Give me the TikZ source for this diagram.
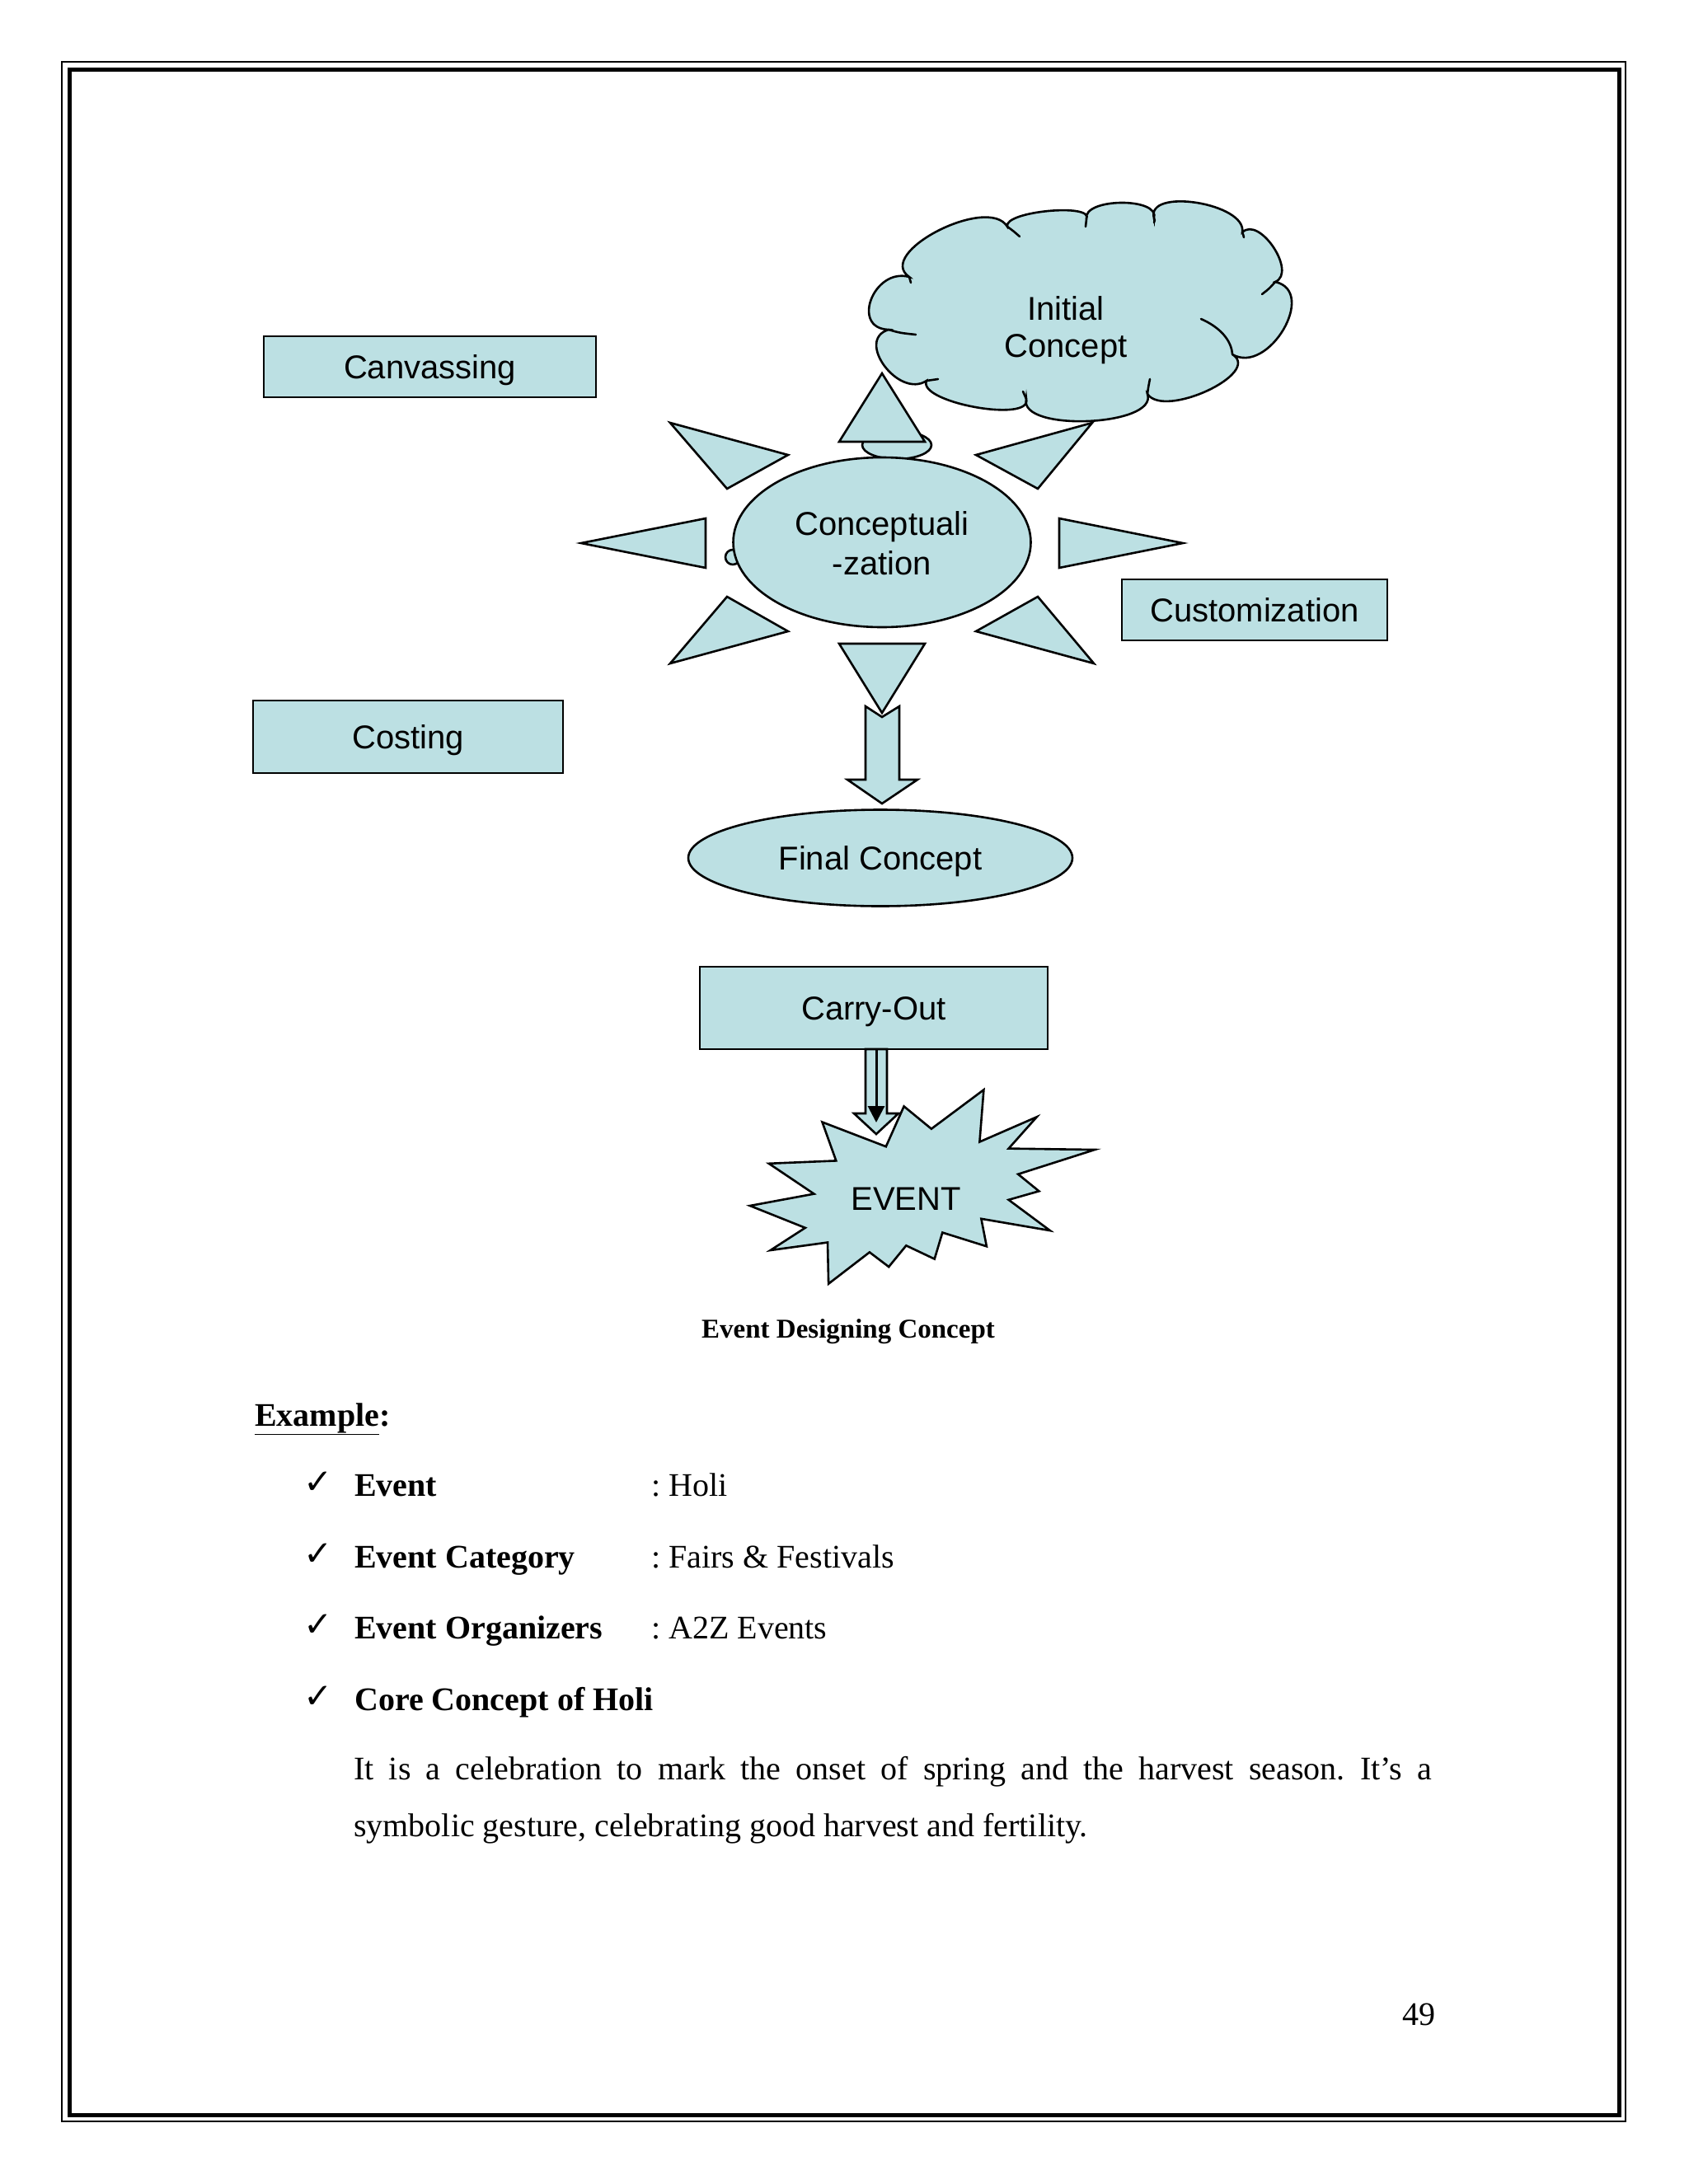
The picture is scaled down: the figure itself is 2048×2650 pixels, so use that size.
\documentclass[tikz,border=0pt]{standalone}
\usepackage{fontspec}
\setmainfont{Liberation Serif}
\newfontfamily\arialf{Liberation Sans}
\newfontfamily\dejavuf{DejaVu Sans}
\usetikzlibrary{shapes.geometric,arrows.meta,calc}
\definecolor{shapefill}{RGB}{188,224,227}
\begin{document}
\frenchspacing
\begin{tikzpicture}[x=1pt,y=-1pt,
  shp/.style={draw=black, fill=shapefill, line width=2.6pt, line join=miter},
  boxnode/.style={shp, rectangle, inner sep=0pt, font=\arialf\fontsize{40}{46}\selectfont, text height=29pt, text depth=0pt},
  lbl/.style={inner sep=0pt, anchor=base, font=\arialf\fontsize{40}{46}\selectfont},
  body/.style={inner sep=0pt, anchor=base west, font=\fontsize{40}{48}\selectfont},
  bodyb/.style={body, font=\bfseries\fontsize{40}{48}\selectfont},
  tick/.style={inner sep=0pt, anchor=base west, font=\dejavuf\fontsize{42}{42}\selectfont},
  curl/.style={draw=black, line width=2.6pt, line cap=round}
]
\fill[white] (0,0) rectangle (2048,2650);
\useasboundingbox (0,0) rectangle (2048,2650);

% page border
\draw[line width=2pt] (75,75) rectangle (1972,2574);
\draw[line width=5pt] (84,84) rectangle (1964,2566);

% side boxes
\node[boxnode, minimum width=403pt, minimum height=74pt] (canv) at (521.5,445) {Canvassing};
\node[boxnode, minimum width=376pt, minimum height=88pt] (cost) at (495,894) {Costing};
\node[boxnode, minimum width=322pt, minimum height=74pt] (cust) at (1522,740) {Customization};

% cloud (drawn lobe by lobe)
\coordinate (cA) at (1103,336);
\coordinate (mAB) at (1138,280);
\coordinate (cB) at (1222,275);
\coordinate (mBC) at (1272,256);
\coordinate (cC) at (1318,266);
\coordinate (mCD) at (1360,246);
\coordinate (cD) at (1400,265);
\coordinate (mDE) at (1452,246);
\coordinate (cE) at (1507,282);
\coordinate (mEF) at (1545,300);
\coordinate (cF) at (1547,342);
\coordinate (mFG) at (1557,400);
\coordinate (cG) at (1495,430);
\coordinate (mGH) at (1465,474);
\coordinate (cH) at (1392,478);
\coordinate (mHI) at (1320,511);
\coordinate (cI) at (1245,484);
\coordinate (mIJ) at (1183,494);
\coordinate (cJ) at (1124,462);
\coordinate (mJK) at (1073,444);
\coordinate (cK) at (1078,400);
\coordinate (mKA) at (1057,363);
\path[shp] (cA)
  .. controls ($0.4133*(cA)+1.3333*(mAB)-0.7467*(cB)$) and ($0.4133*(cB)+1.3333*(mAB)-0.7467*(cA)$) .. (cB)
  .. controls ($0.4133*(cB)+1.3333*(mBC)-0.7467*(cC)$) and ($0.4133*(cC)+1.3333*(mBC)-0.7467*(cB)$) .. (cC)
  .. controls ($0.4133*(cC)+1.3333*(mCD)-0.7467*(cD)$) and ($0.4133*(cD)+1.3333*(mCD)-0.7467*(cC)$) .. (cD)
  .. controls ($0.4133*(cD)+1.3333*(mDE)-0.7467*(cE)$) and ($0.4133*(cE)+1.3333*(mDE)-0.7467*(cD)$) .. (cE)
  .. controls ($0.4133*(cE)+1.3333*(mEF)-0.7467*(cF)$) and ($0.4133*(cF)+1.3333*(mEF)-0.7467*(cE)$) .. (cF)
  .. controls ($0.4133*(cF)+1.3333*(mFG)-0.7467*(cG)$) and ($0.4133*(cG)+1.3333*(mFG)-0.7467*(cF)$) .. (cG)
  .. controls ($0.4133*(cG)+1.3333*(mGH)-0.7467*(cH)$) and ($0.4133*(cH)+1.3333*(mGH)-0.7467*(cG)$) .. (cH)
  .. controls ($0.4133*(cH)+1.3333*(mHI)-0.7467*(cI)$) and ($0.4133*(cI)+1.3333*(mHI)-0.7467*(cH)$) .. (cI)
  .. controls ($0.4133*(cI)+1.3333*(mIJ)-0.7467*(cJ)$) and ($0.4133*(cJ)+1.3333*(mIJ)-0.7467*(cI)$) .. (cJ)
  .. controls ($0.4133*(cJ)+1.3333*(mJK)-0.7467*(cK)$) and ($0.4133*(cK)+1.3333*(mJK)-0.7467*(cJ)$) .. (cK)
  .. controls ($0.4133*(cK)+1.3333*(mKA)-0.7467*(cA)$) and ($0.4133*(cA)+1.3333*(mKA)-0.7467*(cK)$) .. (cA) -- cycle;
% cloud inner curls
\draw[curl] (cK) .. controls (1092,404) .. (1111,406);
\draw[curl] (cA) .. controls (1104,339) .. (1105,343);
\draw[curl] (cB) .. controls (1229,280) .. (1237,287);
\draw[curl] (1317,275) .. controls (1318,270) .. (cC);
\draw[curl] (1400,270) .. controls (1401,267) .. (cD);
\draw[curl] (cE) .. controls (1508,284) .. (1509,288);
\draw[curl] (cF) .. controls (1540,350) .. (1531,357);
\draw[curl] (1457,387) .. controls (1480,397) and (1494,413) .. (cG);
\draw[curl] (1395,460) .. controls (1393,470) .. (cH);
\draw[curl] (1241,475) .. controls (1243,480) .. (cI);
\draw[curl] (cJ) .. controls (1131,461) .. (1138,460);
\node[lbl] (initA) at (1293,388) {Initial};
\node[lbl] (initB) at (1293,433) {Concept};

% sun
\draw[shp] (1088,540) ellipse [x radius=42, y radius=17];
\draw[shp] (889,676) circle [radius=9];
\draw[shp] (1070,453) -- (1122,536) -- (1018,536) -- cycle;
\draw[shp] (1070,865) -- (1122,781) -- (1018,781) -- cycle;
\draw[shp] (705,659) -- (856,629) -- (856,689) -- cycle;
\draw[shp] (1435,659) -- (1285,629) -- (1285,689) -- cycle;
\draw[shp] (813,513) -- (956,552) -- (882,593) -- cycle;
\draw[shp] (1325,513) -- (1184,552) -- (1259,593) -- cycle;
\draw[shp] (813,805) -- (956,766) -- (882,724) -- cycle;
\draw[shp] (1327,805) -- (1184,766) -- (1259,724) -- cycle;
\node[shp, ellipse, minimum width=361pt, minimum height=206pt, inner sep=0pt] (concept) at (1070,658) {};
\node[lbl] (conA) at (1070,649) {Conceptuali};
\node[lbl] (conB) at (1070,697) {-zation};

% block arrow to final concept
\draw[shp] (1050,857) -- (1070,870) -- (1091,857) -- (1091,946) -- (1113,946) -- (1070,975) -- (1028,946) -- (1050,946) -- cycle;

% final concept
\node[shp, ellipse, minimum width=466pt, minimum height=117pt, inner sep=0pt, font=\arialf\fontsize{40}{46}\selectfont, text height=29pt, text depth=0pt] (final) at (1068,1041) {Final Concept};

% carry-out
\node[boxnode, minimum width=422pt, minimum height=100pt] (carry) at (1060,1223) {Carry-Out};

% event star
\draw[shp] (997.5,1361.5) -- (1074.8,1391.2) -- (1096.6,1342.4) -- (1129.9,1369.7) -- (1193.4,1322.3) -- (1188.4,1385.5) -- (1257.7,1355.3) -- (1223.6,1393.6) -- (1328.1,1395.0) -- (1235.1,1424.7) -- (1260.4,1445.3) -- (1223.6,1455.8) -- (1273.8,1493.1) -- (1190.4,1478.8) -- (1196.9,1512.3) -- (1143.3,1495.5) -- (1133.7,1527.6) -- (1099.3,1511.3) -- (1078.2,1537.1) -- (1054.9,1519.4) -- (1005.1,1557.7) -- (1004.0,1507.5) -- (934.7,1517.0) -- (976.8,1489.8) -- (909.8,1463.0) -- (987.5,1448.6) -- (932.8,1411.8) -- (1014.3,1408.4) -- cycle;
\node[lbl] (event) at (1099,1468) {EVENT};

% carry-out to event arrow
\draw[shp] (1050,1273) -- (1076,1273) -- (1076,1351) -- (1090,1351) -- (1063,1376) -- (1036,1351) -- (1050,1351) -- cycle;
\coordinate (ev) at (1063,1362);
\draw[line width=3pt, -{Triangle[length=20pt,width=20pt]}] (carry.south -| ev) -- (ev);

% caption
\node[inner sep=0pt, anchor=base west, font=\bfseries\fontsize{33}{40}\selectfont] (cap) at (851,1623) {Event Designing Concept};

% example
\node[bodyb] (ex) at (309,1730) {\underline{Example}:};
\node[tick] (t1) at (368,1812) {✓};
\node[tick] (t2) at (368,1899) {✓};
\node[tick] (t3) at (368,1985) {✓};
\node[tick] (t4) at (368,2072) {✓};
\node[bodyb] (l1) at (430,1815) {Event};
\node[bodyb] (l2) at (430,1902) {Event Category};
\node[bodyb] (l3) at (430,1988) {Event Organizers};
\node[bodyb] (l4) at (430,2075) {Core Concept of Holi};
\node[body] (v1) at (790,1815) {: Holi};
\node[body] (v2) at (790,1902) {: Fairs \& Festivals};
\node[body] (v3) at (790,1988) {: A2Z Events};

\node[body] (p1) at (429,2159) {\makebox[1308pt][s]{It is a celebration to mark the onset of spring and the harvest season. It’s a}};
\node[body] (p2) at (429,2228) {symbolic gesture, celebrating good harvest and fertility.};

\node[inner sep=0pt, anchor=base east, font=\fontsize{40}{48}\selectfont] (pg) at (1742,2457) {49};
\end{tikzpicture}
\end{document}
